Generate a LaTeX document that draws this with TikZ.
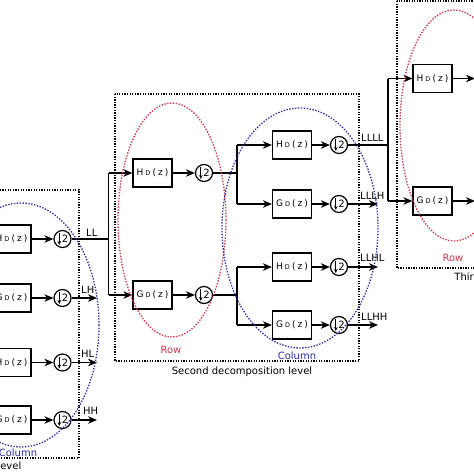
\documentclass[tikz,border=0pt]{standalone}
\usepackage{fontspec}
\setmainfont{DejaVu Sans}
\usetikzlibrary{arrows.meta,calc}
\definecolor{rowred}{RGB}{205,55,75}
\definecolor{colblue}{RGB}{45,45,165}
\newcommand{\filtsub}{{\fontsize{6.5}{7}\selectfont D}}
\newcommand{\filtH}{H\kern2pt\filtsub\kern2.2pt(\kern2pt z\kern2pt)}
\newcommand{\filtG}{G\kern2pt\filtsub\kern2.2pt(\kern2pt z\kern2pt)}
\newcommand{\mydsamp}[2]{%
  \node[ds] (#1) at (#2) {\kern5pt 2};
  \draw[dsa] ([shift={(-3.2,-6)}]#1.center) -- ++(0,12);}
\begin{document}
\begin{tikzpicture}[x=1pt,y=-1pt, font=\fontsize{10}{12}\selectfont,
  filt/.style={draw, line width=1.2pt, minimum width=39pt, minimum height=28pt, inner sep=0pt, font=\fontsize{9}{10}\selectfont},
  ds/.style={draw, circle, line width=1.2pt, minimum size=17pt, inner sep=0pt, font=\fontsize{10}{10}\selectfont},
  dsa/.style={line width=0.9pt, -{Stealth[length=4pt,width=3.6pt]}},
  wire/.style={line width=1.2pt},
  arr/.style={line width=1.2pt, -{Stealth[length=9pt,width=7.5pt,inset=2.8pt]}},
  levelbox/.style={draw, dash pattern=on 1.3pt off 1.3pt, line width=1.4pt},
  rowell/.style={draw=rowred, dash pattern=on 1.4pt off 1.5pt, line width=1.3pt},
  colell/.style={draw=colblue, dash pattern=on 1.4pt off 1.5pt, line width=1.3pt},
  sig/.style={anchor=base west, inner sep=0pt},
  lvl/.style={anchor=base, inner sep=0pt},
]
\useasboundingbox (0,0) rectangle (474,474);
\clip (0,0) rectangle (474,474);

% level boxes
\draw[levelbox] (-165,190) rectangle (79,458);
\draw[levelbox] (115,94) rectangle (359,361);
\draw[levelbox] (397,1) rectangle (641,268);
\node[lvl] (lv1) at (-41,469) {First decomposition level};
\node[lvl] (lv2) at (242,374) {Second decomposition level};
\node[lvl] (lv3) at (519,280) {Third decomposition level};

% ---- stage 1 (column)
\node[filt] (h1) at (11.5,239) {\filtH};
\node[filt] (g1) at (11.5,298) {\filtG};
\node[filt] (h2) at (11.5,362.5) {\filtH};
\node[filt] (g2) at (11.5,420) {\filtG};
\mydsamp{a1}{62.5,239}
\mydsamp{a2}{62.5,298}
\mydsamp{a3}{62.5,362.5}
\mydsamp{a4}{62.5,420}
\draw[arr] (h1.east) -- (a1.west);
\draw[arr] (g1.east) -- (a2.west);
\draw[arr] (h2.east) -- (a3.west);
\draw[arr] (g2.east) -- (a4.west);
\coordinate (j1) at (108.5,239);
\coordinate (j1top) at (108.5,173);
\coordinate (j1bot) at (108.5,295);
\coordinate (o2) at (97,298);
\coordinate (o3) at (97,362.5);
\coordinate (o4) at (97,420);
\draw[wire] (a1.east) -- (j1);
\draw[arr] (a2.east) -- (o2);
\draw[arr] (a3.east) -- (o3);
\draw[arr] (a4.east) -- (o4);
\node[sig] (sLL) at (86,236) {LL};
\node[sig] (sLH) at (81,293) {LH};
\node[sig] (sHL) at (81,357) {HL};
\node[sig] (sHH) at (83,414) {HH};

% ---- stage 2 (row)
\node[filt] (h3) at (152.5,173) {\filtH};
\node[filt] (g3) at (152.5,295) {\filtG};
\draw[wire] (j1top) -- (j1bot);
\draw[arr] (j1top) -- (h3.west);
\draw[arr] (j1bot) -- (g3.west);
\mydsamp{b1}{204,173}
\mydsamp{b2}{204,295}
\draw[arr] (h3.east) -- (b1.west);
\draw[arr] (g3.east) -- (b2.west);

% ---- stage 2 (column)
\coordinate (k1) at (237,173);
\coordinate (k1top) at (237,145);
\coordinate (k1bot) at (237,204);
\coordinate (k2) at (237,295);
\coordinate (k2top) at (237,267);
\coordinate (k2bot) at (237,325);
\draw[wire] (b1.east) -- (k1);
\draw[wire] (b2.east) -- (k2);
\draw[wire] (k1top) -- (k1bot);
\draw[wire] (k2top) -- (k2bot);
\node[filt] (h4) at (292,145) {\filtH};
\node[filt] (g4) at (292,204) {\filtG};
\node[filt] (h5) at (292,267) {\filtH};
\node[filt] (g5) at (292,325) {\filtG};
\draw[arr] (k1top) -- (h4.west);
\draw[arr] (k1bot) -- (g4.west);
\draw[arr] (k2top) -- (h5.west);
\draw[arr] (k2bot) -- (g5.west);
\mydsamp{c1}{339,145}
\mydsamp{c2}{339,204}
\mydsamp{c3}{339,267}
\mydsamp{c4}{339,325}
\draw[arr] (h4.east) -- (c1.west);
\draw[arr] (g4.east) -- (c2.west);
\draw[arr] (h5.east) -- (c3.west);
\draw[arr] (g5.east) -- (c4.west);
\coordinate (m1) at (388,145);
\coordinate (m1top) at (388,78.5);
\coordinate (m1bot) at (388,201);
\coordinate (p2) at (378,204);
\coordinate (p3) at (378,267);
\coordinate (p4) at (378,325);
\draw[wire] (c1.east) -- (m1);
\draw[arr] (c2.east) -- (p2);
\draw[arr] (c3.east) -- (p3);
\draw[arr] (c4.east) -- (p4);
\node[sig] (sLLLL) at (361,141) {LLLL};
\node[sig] (sLLLH) at (360,199) {LLLH};
\node[sig] (sLLHL) at (360,261) {LLHL};
\node[sig] (sLLHH) at (361,320) {LLHH};

% ---- stage 3 (row)
\node[filt] (h6) at (432.5,78.5) {\filtH};
\node[filt] (g6) at (432.5,201) {\filtG};
\draw[wire] (m1top) -- (m1bot);
\draw[arr] (m1top) -- (h6.west);
\draw[arr] (m1bot) -- (g6.west);
\coordinate (q1) at (475,78.5);
\coordinate (q2) at (475,201);
\draw[arr] (h6.east) -- (q1);
\draw[arr] (g6.east) -- (q2);

% ---- ellipses
\draw[colell] (21,325) ellipse [x radius=78, y radius=122];
\draw[rowell] (172,220) ellipse [x radius=54, y radius=117];
\draw[colell] (300,228) ellipse [x radius=78, y radius=120];
\draw[rowell] (454,125.5) ellipse [x radius=54, y radius=115.5];
\node[text=colblue] (col1) at (18,453) {Column};
\node[text=rowred] (row2) at (171,350) {Row};
\node[text=colblue] (col2) at (297,356) {Column};
\node[text=rowred] (row3) at (453,258) {Row};
\end{tikzpicture}
\end{document}
